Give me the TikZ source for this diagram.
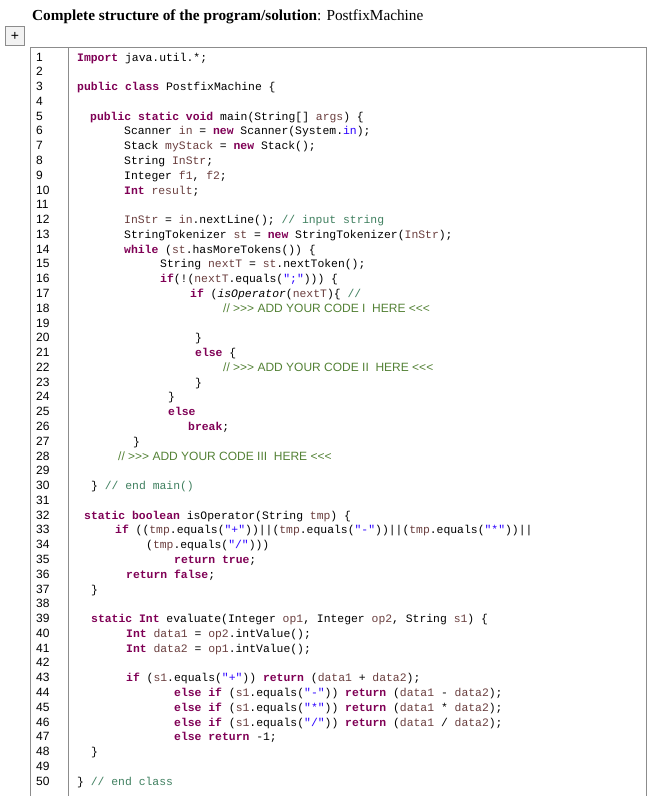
\documentclass[tikz,border=0pt]{standalone}
\usepackage{fontspec}
\setmainfont{Liberation Serif}
\setsansfont{Liberation Sans}
\setmonofont{Liberation Mono}
\definecolor{kwc}{HTML}{7F0055}
\definecolor{vrc}{HTML}{6A3E3E}
\definecolor{cmc}{HTML}{3F7F5F}
\definecolor{adc}{HTML}{538135}
\definecolor{sqc}{HTML}{2A00FF}
\newcommand\Kw[1]{\textcolor{kwc}{\bfseries #1}}
\newcommand\Vr[1]{\textcolor{vrc}{#1}}
\newcommand\Cm[1]{\textcolor{cmc}{#1}}
\newcommand\Sq[1]{\textcolor{sqc}{#1}}
\newcommand\Ad[1]{\textcolor{adc}{\sffamily\fontsize{12}{14}\selectfont // {>}{>}{>} ADD YOUR CODE #1 \ HERE {<}{<}{<}}}
\newcommand\CL[3]{%
  \node[num] (n#1) at (36,{61+(#1-1)*14.78}) {#1};
  \node[code] (c#1) at (#2,{61+(#1-1)*14.78}) {#3};}
\newcommand\NL[1]{\node[num] (n#1) at (36,{61+(#1-1)*14.78}) {#1};}
\begin{document}
\begin{tikzpicture}[x=1pt,y=-1pt,
  num/.style={anchor=base west,inner sep=0pt,font=\sffamily\fontsize{12}{14}\selectfont},
  code/.style={anchor=base west,inner sep=0pt,font=\ttfamily\fontsize{11.4}{14}\selectfont},
  frame/.style={draw=black!45,line width=0.8pt}]
\useasboundingbox (0,0) rectangle (668,796);
\node[anchor=base west,inner sep=0pt,font=\fontsize{15.3}{18}\selectfont] (title) at (32,20)
  {\textbf{Complete structure of the program/solution}: PostfixMachine};
\node[draw=black!45,fill=black!5,minimum size=19pt,inner sep=0pt] (icon) at (15,36) {\sffamily\fontsize{14}{14}\selectfont +};
\draw[frame] (30,796) -- (30,47) -- (646,47) -- (646,796);
\draw[frame] (68,47) -- (68,796);
\CL{1}{77}{\Kw{Import} java.util.*;}
\NL{2}
\CL{3}{77}{\Kw{public class} PostfixMachine \{}
\NL{4}
\CL{5}{90}{\Kw{public static void} main(String[] \Vr{args}) \{}
\CL{6}{124}{Scanner \Vr{in} = \Kw{new} Scanner(System.\Sq{in});}
\CL{7}{124}{Stack \Vr{myStack} = \Kw{new} Stack();}
\CL{8}{124}{String \Vr{InStr};}
\CL{9}{124}{Integer \Vr{f1}, \Vr{f2};}
\CL{10}{124}{\Kw{Int} \Vr{result};}
\NL{11}
\CL{12}{124}{\Vr{InStr} = \Vr{in}.nextLine(); \Cm{// input string}}
\CL{13}{124}{StringTokenizer \Vr{st} = \Kw{new} StringTokenizer(\Vr{InStr});}
\CL{14}{124}{\Kw{while} (\Vr{st}.hasMoreTokens()) \{}
\CL{15}{160}{String \Vr{nextT} = \Vr{st}.nextToken();}
\CL{16}{160}{\Kw{if}(!(\Vr{nextT}.equals(\Sq{";"}))) \{}
\CL{17}{190}{\Kw{if} (\textit{isOperator}(\Vr{nextT})\{ \Cm{//}}
\CL{18}{223}{\Ad{I}}
\NL{19}
\CL{20}{195}{\}}
\CL{21}{195}{\Kw{else} \{}
\CL{22}{223}{\Ad{II}}
\CL{23}{195}{\}}
\CL{24}{168}{\}}
\CL{25}{168}{\Kw{else}}
\CL{26}{188}{\Kw{break};}
\CL{27}{133}{\}}
\CL{28}{118}{\Ad{III}}
\NL{29}
\CL{30}{91}{\} \Cm{// end main()}}
\NL{31}
\CL{32}{84}{\Kw{static boolean} isOperator(String \Vr{tmp}) \{}
\CL{33}{115}{\Kw{if} ((\Vr{tmp}.equals(\Sq{"+"}))||(\Vr{tmp}.equals(\Sq{"-"}))||(\Vr{tmp}.equals(\Sq{"*"}))||}
\CL{34}{146}{(\Vr{tmp}.equals(\Sq{"/"})))}
\CL{35}{174}{\Kw{return true};}
\CL{36}{126}{\Kw{return false};}
\CL{37}{91}{\}}
\NL{38}
\CL{39}{91}{\Kw{static Int} evaluate(Integer \Vr{op1}, Integer \Vr{op2}, String \Vr{s1}) \{}
\CL{40}{126}{\Kw{Int} \Vr{data1} = \Vr{op2}.intValue();}
\CL{41}{126}{\Kw{Int} \Vr{data2} = \Vr{op1}.intValue();}
\NL{42}
\CL{43}{126}{\Kw{if} (\Vr{s1}.equals(\Sq{"+"})) \Kw{return} (\Vr{data1} + \Vr{data2});}
\CL{44}{174}{\Kw{else if} (\Vr{s1}.equals(\Sq{"-"})) \Kw{return} (\Vr{data1} - \Vr{data2});}
\CL{45}{174}{\Kw{else if} (\Vr{s1}.equals(\Sq{"*"})) \Kw{return} (\Vr{data1} * \Vr{data2});}
\CL{46}{174}{\Kw{else if} (\Vr{s1}.equals(\Sq{"/"})) \Kw{return} (\Vr{data1} / \Vr{data2});}
\CL{47}{174}{\Kw{else return} -1;}
\CL{48}{91}{\}}
\NL{49}
\CL{50}{77}{\} \Cm{// end class}}
\end{tikzpicture}
\end{document}
